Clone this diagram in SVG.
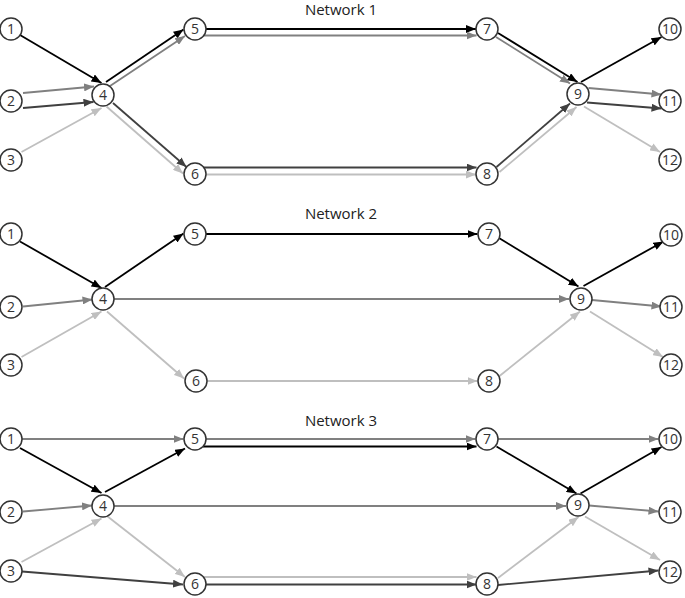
<svg xmlns="http://www.w3.org/2000/svg" width="685" height="598" viewBox="0 0 685 598">
<style>
.e{fill:none;stroke-width:1.8}
.k{stroke:#000;marker-end:url(#ak)}
.d{stroke:#404040;marker-end:url(#ad)}
.m{stroke:#808080;marker-end:url(#am)}
.l{stroke:#bfbfbf;marker-end:url(#al)}
.n circle{fill:#fff;stroke:#333;stroke-width:1.5}
.n text{font-family:"Open Sans","Liberation Sans",sans-serif;font-size:14px;fill:#333;text-anchor:middle}
.t{font-family:"Open Sans","Liberation Sans",sans-serif;font-size:15px;fill:#222;text-anchor:middle}
</style>
<defs>
<marker id="ak" viewBox="0 0 10 8" markerWidth="10" markerHeight="8" refX="10" refY="4" orient="auto" markerUnits="userSpaceOnUse"><path d="M0,0L10,4L0,8z" fill="#000"/></marker>
<marker id="ad" viewBox="0 0 10 8" markerWidth="10" markerHeight="8" refX="10" refY="4" orient="auto" markerUnits="userSpaceOnUse"><path d="M0,0L10,4L0,8z" fill="#404040"/></marker>
<marker id="am" viewBox="0 0 10 8" markerWidth="10" markerHeight="8" refX="10" refY="4" orient="auto" markerUnits="userSpaceOnUse"><path d="M0,0L10,4L0,8z" fill="#808080"/></marker>
<marker id="al" viewBox="0 0 10 8" markerWidth="10" markerHeight="8" refX="10" refY="4" orient="auto" markerUnits="userSpaceOnUse"><path d="M0,0L10,4L0,8z" fill="#bfbfbf"/></marker>
</defs>
<rect width="685" height="598" fill="#fff"/>
<text class="t" x="341" y="15">Network 1</text>
<text class="t" x="341" y="219">Network 2</text>
<text class="t" x="341" y="426">Network 3</text>
<g id="connectors">
<!-- Network 1 -->
<line class="e k" x1="20" y1="35" x2="101.5" y2="83"/>
<line class="e m" x1="23" y1="93" x2="94" y2="86.5"/>
<line class="e d" x1="23" y1="108" x2="93.5" y2="102"/>
<line class="e l" x1="21.5" y1="152" x2="101.5" y2="108"/>
<line class="e k" x1="106" y1="82" x2="183.5" y2="29.5"/>
<line class="e m" x1="108.5" y1="87" x2="185" y2="36"/>
<line class="e d" x1="113" y1="103" x2="186.5" y2="167"/>
<line class="e l" x1="106.5" y1="106.5" x2="183" y2="173.5"/>
<line class="e k" x1="206" y1="29" x2="476" y2="29"/>
<line class="e m" x1="203" y1="35.5" x2="476.5" y2="35.5"/>
<line class="e d" x1="203" y1="167.5" x2="476.5" y2="167.5"/>
<line class="e l" x1="206" y1="174.5" x2="476" y2="174.5"/>
<line class="e k" x1="498" y1="33" x2="577.5" y2="82"/>
<line class="e m" x1="496" y1="37" x2="570" y2="83.5"/>
<line class="e d" x1="496.5" y1="167" x2="570" y2="103.5"/>
<line class="e l" x1="499.5" y1="172" x2="576.5" y2="107"/>
<line class="e k" x1="581" y1="82" x2="661.5" y2="37"/>
<line class="e m" x1="588.5" y1="88" x2="661.5" y2="94.5"/>
<line class="e d" x1="587" y1="102.5" x2="661.5" y2="108.5"/>
<line class="e l" x1="584" y1="106.5" x2="660" y2="152"/>
<!-- Network 2 -->
<line class="e k" x1="20" y1="241.5" x2="101.5" y2="288"/>
<line class="e k" x1="105" y1="287" x2="183.5" y2="233.5"/>
<line class="e m" x1="23" y1="306.5" x2="92.5" y2="299.5"/>
<line class="e l" x1="21.5" y1="357" x2="101.5" y2="311.5"/>
<line class="e m" x1="114" y1="299" x2="569" y2="299"/>
<line class="e l" x1="107" y1="311.5" x2="184" y2="378.5"/>
<line class="e k" x1="206" y1="234" x2="477.5" y2="234"/>
<line class="e l" x1="207" y1="381" x2="477.5" y2="381"/>
<line class="e k" x1="499" y1="238" x2="578.5" y2="286.5"/>
<line class="e l" x1="499.5" y1="376" x2="580" y2="311.5"/>
<line class="e k" x1="583.5" y1="286" x2="663.5" y2="241.5"/>
<line class="e m" x1="592" y1="300" x2="661.5" y2="306.5"/>
<line class="e l" x1="590" y1="311.5" x2="663" y2="357"/>
<!-- Network 3 -->
<line class="e m" x1="22" y1="439" x2="183.5" y2="439"/>
<line class="e k" x1="20" y1="448" x2="101.5" y2="493"/>
<line class="e k" x1="105" y1="492" x2="185" y2="448.5"/>
<line class="e m" x1="23" y1="511.5" x2="92" y2="505.5"/>
<line class="e m" x1="114" y1="506" x2="566" y2="506"/>
<line class="e l" x1="21.5" y1="562" x2="101.5" y2="518.5"/>
<line class="e l" x1="107" y1="516" x2="185" y2="577"/>
<line class="e d" x1="22" y1="571.5" x2="183" y2="584.5"/>
<line class="e m" x1="206" y1="439" x2="475.5" y2="439"/>
<line class="e k" x1="203" y1="446.5" x2="476.5" y2="446.5"/>
<line class="e l" x1="203" y1="577" x2="476.5" y2="577"/>
<line class="e d" x1="206" y1="584.5" x2="476.5" y2="584.5"/>
<line class="e m" x1="498" y1="439" x2="658.5" y2="439"/>
<line class="e k" x1="496.5" y1="446.5" x2="576.5" y2="493.5"/>
<line class="e l" x1="498" y1="578" x2="578.5" y2="517"/>
<line class="e d" x1="498" y1="585" x2="658.5" y2="570.5"/>
<line class="e k" x1="580.5" y1="493.5" x2="661.5" y2="447"/>
<line class="e m" x1="589" y1="505.5" x2="658.5" y2="511.5"/>
<line class="e l" x1="585" y1="516.5" x2="660" y2="560"/>
</g>
<!-- Network 1 nodes -->
<g id="a1" class="n"><circle cx="11" cy="29" r="11"/><text x="11" y="34">1</text></g>
<g id="a2" class="n"><circle cx="11" cy="101" r="11"/><text x="11" y="106">2</text></g>
<g id="a3" class="n"><circle cx="11" cy="160" r="11"/><text x="11" y="165">3</text></g>
<g id="a4" class="n"><circle cx="103" cy="95" r="11"/><text x="103" y="100">4</text></g>
<g id="a5" class="n"><circle cx="195" cy="29" r="11"/><text x="195" y="34">5</text></g>
<g id="a6" class="n"><circle cx="195" cy="174" r="11"/><text x="195" y="179">6</text></g>
<g id="a7" class="n"><circle cx="487" cy="29" r="11"/><text x="487" y="34">7</text></g>
<g id="a8" class="n"><circle cx="487" cy="174" r="11"/><text x="487" y="179">8</text></g>
<g id="a9" class="n"><circle cx="578" cy="94" r="11"/><text x="578" y="99">9</text></g>
<g id="a10" class="n"><circle cx="670" cy="29" r="11"/><text x="670" y="34">10</text></g>
<g id="a11" class="n"><circle cx="670" cy="101" r="11"/><text x="670" y="106">11</text></g>
<g id="a12" class="n"><circle cx="670" cy="160" r="11"/><text x="670" y="165">12</text></g>
<!-- Network 2 nodes -->
<g id="b1" class="n"><circle cx="11" cy="234" r="11"/><text x="11" y="239">1</text></g>
<g id="b2" class="n"><circle cx="11" cy="307" r="11"/><text x="11" y="312">2</text></g>
<g id="b3" class="n"><circle cx="11" cy="365" r="11"/><text x="11" y="370">3</text></g>
<g id="b4" class="n"><circle cx="103" cy="299" r="11"/><text x="103" y="304">4</text></g>
<g id="b5" class="n"><circle cx="195" cy="234" r="11"/><text x="195" y="239">5</text></g>
<g id="b6" class="n"><circle cx="196" cy="381" r="11"/><text x="196" y="386">6</text></g>
<g id="b7" class="n"><circle cx="489" cy="234" r="11"/><text x="489" y="239">7</text></g>
<g id="b8" class="n"><circle cx="489" cy="381" r="11"/><text x="489" y="386">8</text></g>
<g id="b9" class="n"><circle cx="581" cy="299" r="11"/><text x="581" y="304">9</text></g>
<g id="b10" class="n"><circle cx="671" cy="235" r="11"/><text x="671" y="240">10</text></g>
<g id="b11" class="n"><circle cx="671" cy="307" r="11"/><text x="671" y="312">11</text></g>
<g id="b12" class="n"><circle cx="671" cy="365" r="11"/><text x="671" y="370">12</text></g>
<!-- Network 3 nodes -->
<g id="c1" class="n"><circle cx="11" cy="439" r="11"/><text x="11" y="444">1</text></g>
<g id="c2" class="n"><circle cx="11" cy="512" r="11"/><text x="11" y="517">2</text></g>
<g id="c3" class="n"><circle cx="11" cy="571" r="11"/><text x="11" y="576">3</text></g>
<g id="c4" class="n"><circle cx="103" cy="506" r="11"/><text x="103" y="511">4</text></g>
<g id="c5" class="n"><circle cx="195" cy="439" r="11"/><text x="195" y="444">5</text></g>
<g id="c6" class="n"><circle cx="195" cy="584" r="11"/><text x="195" y="589">6</text></g>
<g id="c7" class="n"><circle cx="487" cy="439" r="11"/><text x="487" y="444">7</text></g>
<g id="c8" class="n"><circle cx="487" cy="584" r="11"/><text x="487" y="589">8</text></g>
<g id="c9" class="n"><circle cx="578" cy="505" r="11"/><text x="578" y="510">9</text></g>
<g id="c10" class="n"><circle cx="670" cy="439" r="11"/><text x="670" y="444">10</text></g>
<g id="c11" class="n"><circle cx="670" cy="512" r="11"/><text x="670" y="517">11</text></g>
<g id="c12" class="n"><circle cx="670" cy="572" r="11"/><text x="670" y="577">12</text></g>
</svg>
